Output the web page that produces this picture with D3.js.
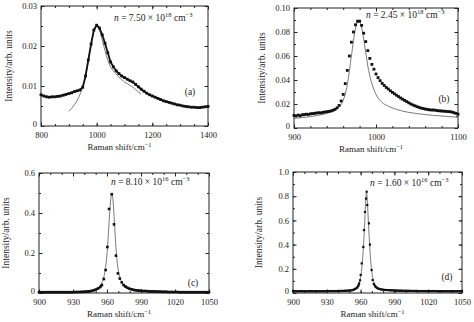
<!DOCTYPE html>
<html><head><meta charset="utf-8">
<script src="https://cdn.jsdelivr.net/npm/d3@7"></script>
<style>
html,body{margin:0;padding:0;background:#fff;}
svg{display:block;}
text{font-family:"Liberation Serif","DejaVu Serif",serif;fill:#222;}
</style></head>
<body><svg id="c" width="474" height="322"></svg>
<script>
// ---------------- Panel (a) ----------------
const aX = [800,810,820,830,840,850,860,870,880,890,900,910,920,930,940,950,960,970,980,990,1000,1010,1020,1030,1040,1050,1060,1070,1080,1090,1100,1110,1120,1130,1140,1150,1160,1170,1180,1190,1200,1210,1220,1230,1240,1250,1260,1270,1280,1290,1300,1310,1320,1330,1340,1350,1360,1370,1380,1390,1400];
const aY = [.0078,.0075,.0073,.0072,.0073,.0073,.0074,.0075,.0077,.0079,.0081,.0083,.0086,.0088,.0090,.0097,.0125,.0165,.0205,.0240,.0252,.0245,.0228,.0207,.0183,.0160,.0148,.0138,.0131,.0125,.0121,.0117,.0113,.0110,.0104,.0098,.0092,.0087,.0082,.0078,.0075,.0072,.0069,.0066,.0063,.0061,.0059,.0057,.0055,.0053,.0052,.0050,.0049,.0048,.0047,.0047,.0046,.0046,.0047,.0048,.0049];
const aFitX = [900,910,920,930,940,950,960,970,980,990,1000,1010,1020,1030,1040,1050,1060,1070,1080,1090,1100,1110,1120,1130,1140,1150,1160];
const aFitY = [.0037,.0044,.0053,.0064,.0079,.0098,.0125,.0163,.0205,.0238,.0250,.0240,.0215,.0188,.0165,.0148,.0138,.0130,.0122,.0116,.0110,.0106,.0101,.0097,.0091,.0085,.0079];
const aXTicks = [800,1000,1200,1400];
const aYTicks = [0,0.01,0.02,0.03];
const aYLabels = ["0","0.01","0.02","0.03"];

// ---------------- Panel (b) ----------------
const bX = [900,902.5,905,907.5,910,912.5,915,917.5,920,922.5,925,927.5,930,932.5,935,937.5,940,942.5,945,947.5,950,952.5,955,957.5,960,962.5,965,967.5,970,972.5,975,977.5,980,982.5,985,987.5,990,992.5,995,997.5,1000,1002.5,1005,1007.5,1010,1012.5,1015,1017.5,1020,1022.5,1025,1027.5,1030,1032.5,1035,1037.5,1040,1042.5,1045,1047.5,1050,1052.5,1055,1057.5,1060,1062.5,1065,1067.5,1070,1072.5,1075,1077.5,1080,1082.5,1085,1087.5,1090,1092.5,1095,1097.5,1100];
const bY = [.0105,.0100,.0108,.0102,.0110,.0112,.0115,.0113,.0118,.0120,.0122,.0125,.0127,.0126,.0130,.0133,.0136,.0138,.0142,.0148,.0155,.0168,.0188,.0225,.0280,.0370,.0480,.0600,.0715,.0800,.0860,.0890,.0890,.0855,.0790,.0720,.0645,.0580,.0530,.0490,.0450,.0420,.0395,.0372,.0355,.0338,.0325,.0310,.0297,.0285,.0273,.0262,.0250,.0240,.0230,.0220,.0210,.0200,.0192,.0185,.0178,.0172,.0166,.0162,.0158,.0155,.0152,.0150,.0150,.0148,.0145,.0143,.0142,.0140,.0139,.0137,.0136,.0133,.0128,.0122,.0115];
const bFitX = [900,910,920,930,940,950,955,960,965,970,975,979,983,987,991,995,1000,1007,1014,1025,1040,1050,1070,1085,1100];
const bFitY = [.0080,.0087,.0095,.0106,.0122,.0150,.0175,.0230,.0360,.0600,.0830,.0895,.0820,.0650,.0480,.0370,.0280,.0215,.0185,.0155,.0130,.0120,.0105,.0097,.0090];
const bXTicks = [900,1000,1100];
const bYTicks = [0,0.02,0.04,0.06,0.08,0.10];
const bYLabels = ["0","0.02","0.04","0.06","0.08","0.10"];

// ---------------- Panel (c) ----------------
const cX = [900,902,904,906,908,910,912,914,916,918,920,922,924,926,928,930,932,934,936,938,940,942,944,946,948,950,952,954,955.5,957.2,958.8,960.3,961.8,964.2,966.2,967.9,969.6,971.3,973,974.6,976.3,978,980,982,984,986,988,990,992,994,996,998,1000,1002,1004,1006,1008,1010,1012,1014,1016,1018,1020,1022,1024,1026,1028,1030,1032,1034,1036,1038,1040,1042,1044,1046,1048,1050];
const cY = [.004,.004,.004,.004,.004,.004,.004,.004,.004,.004,.004,.004,.004,.004,.004,.004,.005,.005,.005,.006,.006,.007,.008,.010,.013,.017,.022,.030,.040,.070,.115,.230,.420,.494,.343,.187,.098,.072,.053,.040,.032,.026,.021,.018,.015,.013,.012,.011,.010,.010,.009,.008,.008,.008,.007,.007,.006,.006,.006,.005,.005,.005,.005,.005,.004,.004,.004,.004,.004,.004,.004,.004,.004,.004,.004,.004,.004,.004];
const cFitX = [900,920,940,945,950,953,955,957,959,960.5,962,963,964.3,965.5,966.5,968,969.5,971,973,975,978,982,990,1000,1020,1050];
const cFitY = [.002,.003,.008,.011,.019,.030,.045,.075,.140,.230,.370,.450,.500,.450,.360,.220,.130,.085,.055,.038,.026,.017,.010,.007,.004,.003];
const cXTicks = [900,930,960,990,1020,1050];
const cYTicks = [0,0.2,0.4,0.6];
const cYLabels = ["0","0.2","0.4","0.6"];

// ---------------- Panel (d) ----------------
const dX = [900,902,904,906,908,910,912,914,916,918,920,922,924,926,928,930,932,934,936,938,940,942,944,946,948,950,952,954,955.5,957,958,958.7,959.5,960.1,961,962.4,963,963.9,964.8,965.4,965.9,967.4,968.3,969.8,970.7,971.7,973,974.5,976,978,980,982,984,986,988,990,992,994,996,998,1000,1002,1004,1006,1008,1010,1012,1014,1016,1018,1020,1022,1024,1026,1028,1030,1032,1034,1036,1038,1040,1042,1044,1046,1048,1050];
const dY = [.015,.015,.015,.015,.015,.015,.015,.015,.015,.015,.015,.015,.015,.015,.015,.016,.016,.016,.016,.016,.017,.017,.017,.018,.019,.020,.022,.028,.035,.045,.060,.080,.105,.149,.245,.380,.520,.670,.780,.837,.727,.576,.400,.190,.107,.075,.055,.042,.035,.030,.027,.025,.024,.023,.022,.020,.020,.019,.019,.018,.018,.018,.017,.017,.017,.017,.016,.016,.016,.016,.016,.016,.016,.016,.015,.015,.015,.015,.015,.015,.015,.015,.015,.015,.015,.015];
const dFitX = [900,930,945,950,955,958,960,961.5,962.5,963.5,964.3,965.3,966.2,967,968,969,970,971.5,973,976,980,990,1010,1050];
const dFitY = [.012,.013,.017,.022,.035,.065,.130,.250,.380,.550,.720,.830,.720,.570,.400,.260,.170,.100,.065,.040,.028,.018,.014,.012];
const dXTicks = [900,930,960,990,1020,1050];
const dYTicks = [0,0.2,0.4,0.6,0.8,1.0];
const dYLabels = ["0","0.2","0.4","0.6","0.8","1.0"];

const svg = d3.select("#c");
const FS = 8.5;

function panel(o){
  const x = d3.scaleLinear().domain(o.xd).range([o.l, o.r]);
  const y = d3.scaleLinear().domain(o.yd).range([o.b, o.t]);
  const g = svg.append("g");
  g.append("rect").attr("x",o.l).attr("y",o.t).attr("width",o.r-o.l).attr("height",o.b-o.t)
    .attr("fill","none").attr("stroke","#222").attr("stroke-width",1);
  const minorX = d3.range(o.xd[0], o.xd[1]+1e-9, o.xminor);
  const minorY = d3.range(o.yd[0], o.yd[1]+1e-9, o.yminor);
  function ax(axis, tr, ticks, size, fmt, pad){
    const a = g.append("g").attr("transform",tr)
      .call(axis.tickValues(ticks).tickSizeInner(-size).tickSizeOuter(0).tickPadding(pad||3).tickFormat(fmt));
    a.select(".domain").remove();
    a.selectAll("line").attr("stroke","#222");
    a.selectAll("text").attr("font-family","Liberation Serif, DejaVu Serif, serif").attr("font-size",FS).attr("fill","#222");
    return a;
  }
  ax(d3.axisBottom(x), `translate(0,${o.b})`, o.xticks, 3.5, d3.format("d"), 6);
  ax(d3.axisBottom(x), `translate(0,${o.b})`, minorX, 2, "");
  ax(d3.axisTop(x), `translate(0,${o.t})`, o.xticks, 3.5, "");
  ax(d3.axisTop(x), `translate(0,${o.t})`, minorX, 2, "");
  const yl = ax(d3.axisLeft(y), `translate(${o.l},0)`, o.yticks, 3.5, (d,i)=>o.ylabels[i], 4);
  yl.selectAll("text").filter(d=>d===0).attr("dy","0.1em");
  ax(d3.axisLeft(y), `translate(${o.l},0)`, minorY, 2, "");
  ax(d3.axisRight(y), `translate(${o.r},0)`, o.yticks, 3.5, "");
  ax(d3.axisRight(y), `translate(${o.r},0)`, minorY, 2, "");

  // fit curve
  const fit = o.fx.map((v,i)=>[v,o.fy[i]]);
  g.append("path").datum(fit)
    .attr("d", d3.line().x(d=>x(d[0])).y(d=>y(d[1])).curve(d3.curveMonotoneX))
    .attr("fill","none").attr("stroke","#7a7a7a").attr("stroke-width",1);
  // data: dense band where points crowd together, plus square markers
  const pts = o.dx.map((v,i)=>[v,o.dy[i]]);
  if (o.band) {
    const segs = [];
    for (let i=1;i<pts.length;i++){
      const p0=[x(pts[i-1][0]),y(pts[i-1][1])], p1=[x(pts[i][0]),y(pts[i][1])];
      if (Math.hypot(p1[0]-p0[0],p1[1]-p0[1]) < o.band) segs.push([p0,p1]);
    }
    g.selectAll("line.band").data(segs).enter().append("line").attr("class","band")
      .attr("x1",d=>d[0][0]).attr("y1",d=>d[0][1]).attr("x2",d=>d[1][0]).attr("y2",d=>d[1][1])
      .attr("stroke","#111").attr("stroke-width",o.bandW);
  }
  const s = o.ms;
  g.selectAll("rect.pt").data(pts).enter().append("rect").attr("class","pt")
    .attr("x",d=>x(d[0])-s/2).attr("y",d=>y(d[1])-s/2).attr("width",s).attr("height",s)
    .attr("fill","#111");

  // annotation
  const t = g.append("text").attr("x",o.nx).attr("y",o.ny).attr("font-size",9.5);
  t.append("tspan").attr("font-style","italic").text("n");
  t.append("tspan").text(" = " + o.n + " \u00d7 10");
  t.append("tspan").attr("dy",-4).attr("font-size",6.5).text(o.exp);
  t.append("tspan").attr("dy",4).text(" cm");
  t.append("tspan").attr("dy",-4).attr("font-size",6.5).text("\u22123");
  g.append("text").attr("x",o.px).attr("y",o.py).attr("text-anchor","middle").attr("font-size",9.5).text(o.letter);
  const xl = g.append("text").attr("x",(o.l+o.r)/2 - 5).attr("y",o.b+24).attr("text-anchor","middle").attr("font-size",9);
  xl.append("tspan").text("Raman shift/cm");
  xl.append("tspan").attr("dy",-3.5).attr("font-size",6.5).text("\u22121");
  g.append("text").attr("transform",`translate(${o.yl},${(o.t+o.b)/2}) rotate(-90)`)
    .attr("text-anchor","middle").attr("font-size",9.5).text("Intensity/arb. units");
}

panel({xd:[800,1400], yd:[0,0.03], l:41, r:208, t:6, b:126, xticks:aXTicks, yticks:aYTicks, ylabels:aYLabels,
  xminor:50, yminor:0.005, dx:aX, dy:aY, fx:aFitX, fy:aFitY, ms:2.8, band:20, bandW:1.8,
  n:"7.50", exp:"18", nx:114, ny:21, letter:"(a)", px:190, py:95, yl:12});
panel({xd:[900,1100], yd:[0,0.10], l:294, r:458, t:8, b:128, xticks:bXTicks, yticks:bYTicks, ylabels:bYLabels,
  xminor:20, yminor:0.01, dx:bX, dy:bY, fx:bFitX, fy:bFitY, ms:2.8,
  n:"2.45", exp:"18", nx:366, ny:18, letter:"(b)", px:444, py:102, yl:265});
panel({xd:[900,1050], yd:[0,0.6], l:39, r:209, t:173, b:293, xticks:cXTicks, yticks:cYTicks, ylabels:cYLabels,
  xminor:10, yminor:0.1, dx:cX, dy:cY, fx:cFitX, fy:cFitY, ms:2.6, band:3, bandW:2,
  n:"8.10", exp:"16", nx:111, ny:185, letter:"(c)", px:193, py:286, yl:9});
panel({xd:[900,1050], yd:[0,1.0], l:293, r:462, t:172, b:293, xticks:dXTicks, yticks:dYTicks, ylabels:dYLabels,
  xminor:10, yminor:0.1, dx:dX, dy:dY, fx:dFitX, fy:dFitY, ms:2.2, band:3, bandW:2,
  n:"1.60", exp:"16", nx:370, ny:186, letter:"(d)", px:447, py:280, yl:262});
</script></body></html>
